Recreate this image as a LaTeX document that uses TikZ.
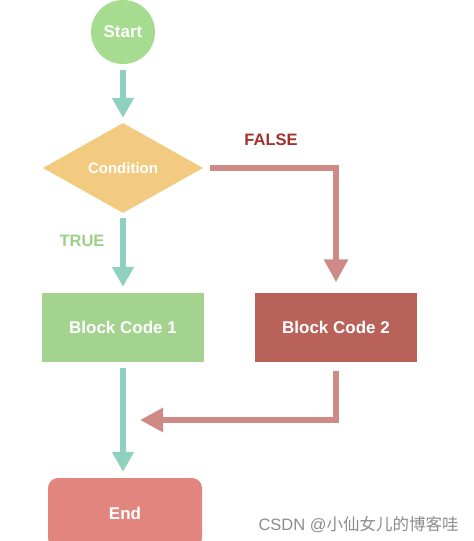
\documentclass[tikz,border=0pt]{standalone}
\usepackage{fontspec}
\setmainfont{Liberation Sans}
\newfontfamily\cjkfont{Noto Sans CJK SC}
\usetikzlibrary{shapes.geometric,arrows.meta}
\definecolor{cstart}{HTML}{A6DC8F}
\definecolor{ccond}{HTML}{F3CB80}
\definecolor{cbone}{HTML}{A3D38E}
\definecolor{cbtwo}{HTML}{B9625A}
\definecolor{cend}{HTML}{E2857F}
\definecolor{cteal}{HTML}{8FD0C1}
\definecolor{credarr}{HTML}{CF8A86}
\definecolor{cfalse}{HTML}{A3302A}
\definecolor{ctrue}{HTML}{9CCF88}
\tikzset{
  lbl/.style={text=white,font=\bfseries\fontsize{17}{19}\selectfont},
  tealarrow/.style={draw=cteal,line width=6pt,-{Triangle[width=21pt,length=20pt]}},
  redarrow/.style={draw=credarr,line width=6pt,-{Triangle[width=23pt,length=23pt]}},
  blockbox/.style={rectangle,minimum width=162pt,minimum height=69pt,inner sep=0pt,lbl},
  branch/.style={font=\bfseries\fontsize{16.5}{18}\selectfont},
}
\begin{document}
\begin{tikzpicture}[x=1pt,y=-1pt]
\useasboundingbox (0,0) rectangle (474,541);
\clip (0,0) rectangle (474,541);
\node[circle,fill=cstart,minimum size=64pt,inner sep=0pt,lbl] (start) at (123,32) {Start};
\node[diamond,fill=ccond,minimum width=160pt,minimum height=90pt,inner sep=0pt,lbl,font=\bfseries\fontsize{15}{17}\selectfont] (cond) at (123,168) {Condition};
\node[blockbox,fill=cbone] (b1) at (123,327.5) {Block Code 1};
\node[blockbox,fill=cbtwo] (b2) at (336,327) {Block Code 2};
\node[rectangle,rounded corners=10pt,fill=cend,minimum width=154pt,minimum height=70pt,inner sep=0pt,lbl] (end) at (125,513) {End};
\node[text=cfalse,branch] (false) at (271,140) {FALSE};
\node[text=ctrue,branch] (true) at (82,241) {TRUE};
\coordinate (join) at (123,420);
\draw[tealarrow,shorten <=6pt,shorten >=5pt] (start.south) -- (cond.north);
\draw[tealarrow,shorten <=5pt,shorten >=6pt] (cond.south) -- (b1.north);
\draw[redarrow,shorten <=7pt,shorten >=10pt] (cond.east) -| (b2.north);
\draw[redarrow,shorten <=9pt,shorten >=17pt] (b2.south) |- (join);
\draw[tealarrow,shorten <=6pt,shorten >=6pt] (b1.south) -- (b1.south |- end.north);
\node[text=black!45,font=\fontsize{16.5}{18}\selectfont,anchor=west] (wm) at (255,525) {CSDN @{\cjkfont 小仙女儿的博客哇}};
\end{tikzpicture}
\end{document}
